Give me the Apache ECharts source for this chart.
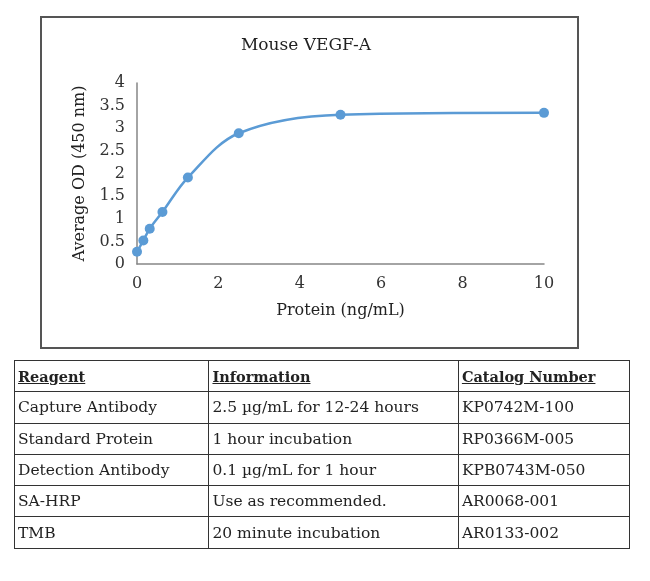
<!DOCTYPE html>
<html>
<head>
<meta charset="utf-8">
<script src="https://cdn.jsdelivr.net/npm/echarts@6/dist/echarts.min.js"></script>
<style>
  html, body { margin: 0; padding: 0; background: #fff; }
  #wrap { position: relative; width: 650px; height: 581px; background: #fff; }
  #chart { position: absolute; left: 0; top: 0; width: 650px; height: 581px; }
  #tbl { position: absolute; left: 14px; top: 360px; width: 616px; border-collapse: collapse;
         font-family: "DejaVu Serif", "Liberation Serif", serif; font-size: 15.5px; color: #222; }
  #tbl td { border: 1.5px solid #333; height: 30.3px; padding: 0 0 0 3px; white-space: nowrap; }
  #tbl tr.h td { font-weight: bold; text-decoration: underline; font-size: 14.5px; }
</style>
</head>
<body>
<div id="wrap">
  <div id="chart"></div>
  <table id="tbl"></table>
</div>
<script>
// ---- data ----
var chartTitle = "Mouse VEGF-A";
var xName = "Protein (ng/mL)";
var yName = "Average OD (450 nm)";
var concentration = [0, 0.156, 0.3125, 0.625, 1.25, 2.5, 5, 10];
var avgOD = [0.27, 0.52, 0.78, 1.15, 1.91, 2.89, 3.30, 3.34];
var tableHeader = ["Reagent", "Information", "Catalog Number"];
var reagents = ["Capture Antibody", "Standard Protein", "Detection Antibody", "SA-HRP", "TMB"];
var information = ["2.5 \u00b5g/mL for 12-24 hours", "1 hour incubation", "0.1 \u00b5g/mL for 1 hour", "Use as recommended.", "20 minute incubation"];
var catalogNumbers = ["KP0742M-100", "RP0366M-005", "KPB0743M-050", "AR0068-001", "AR0133-002"];

// ---- table ----
var colW = [195, 250, 171];
var tbl = document.getElementById('tbl');
function addRow(cells, cls) {
  var tr = document.createElement('tr');
  if (cls) tr.className = cls;
  cells.forEach(function (c, i) {
    var td = document.createElement('td');
    td.textContent = c;
    td.style.width = colW[i] + 'px';
    tr.appendChild(td);
  });
  tbl.appendChild(tr);
}
addRow(tableHeader, 'h');
for (var i = 0; i < reagents.length; i++) addRow([reagents[i], information[i], catalogNumbers[i]]);

// ---- chart ----
var font = '"DejaVu Serif", "Liberation Serif", serif';
var chart = echarts.init(document.getElementById('chart'), null, { renderer: 'canvas' });
chart.setOption({
  animation: false,
  backgroundColor: '#fff',
  title: {
    text: chartTitle, left: 301, top: 32, textAlign: 'center',
    textStyle: { fontFamily: font, fontSize: 17, fontWeight: 'normal', color: '#222' }
  },
  grid: { left: 137, top: 83, right: 106, bottom: 317, containLabel: false },
  xAxis: {
    type: 'value', min: 0, max: 10, interval: 2,
    name: xName, nameLocation: 'middle', nameGap: 39,
    nameTextStyle: { fontFamily: font, fontSize: 16, color: '#222' },
    axisLine: { show: true, lineStyle: { color: '#868686', width: 1.5 } },
    axisTick: { show: false },
    splitLine: { show: false },
    axisLabel: { fontFamily: font, fontSize: 16, color: '#333', margin: 12 }
  },
  yAxis: {
    type: 'value', min: 0, max: 4, interval: 0.5,
    name: yName, nameLocation: 'middle', nameGap: 49, nameRotate: 90,
    nameTextStyle: { fontFamily: font, fontSize: 16, color: '#222' },
    axisLine: { show: true, lineStyle: { color: '#868686', width: 1.5 } },
    axisTick: { show: false },
    splitLine: { show: false },
    axisLabel: { fontFamily: font, fontSize: 16, color: '#333', margin: 12 }
  },
  graphic: [{
    type: 'rect', shape: { x: 41, y: 17, width: 537, height: 331 },
    style: { fill: null, stroke: '#555', lineWidth: 2 }, silent: true
  }],
  series: [{
    type: 'line',
    data: concentration.map(function (x, i) { return [x, avgOD[i]]; }),
    smooth: 0.35,
    symbol: 'circle', symbolSize: 10,
    lineStyle: { color: '#5b9bd5', width: 2.5 },
    itemStyle: { color: '#5b9bd5' }
  }]
});
</script>
</body>
</html>
